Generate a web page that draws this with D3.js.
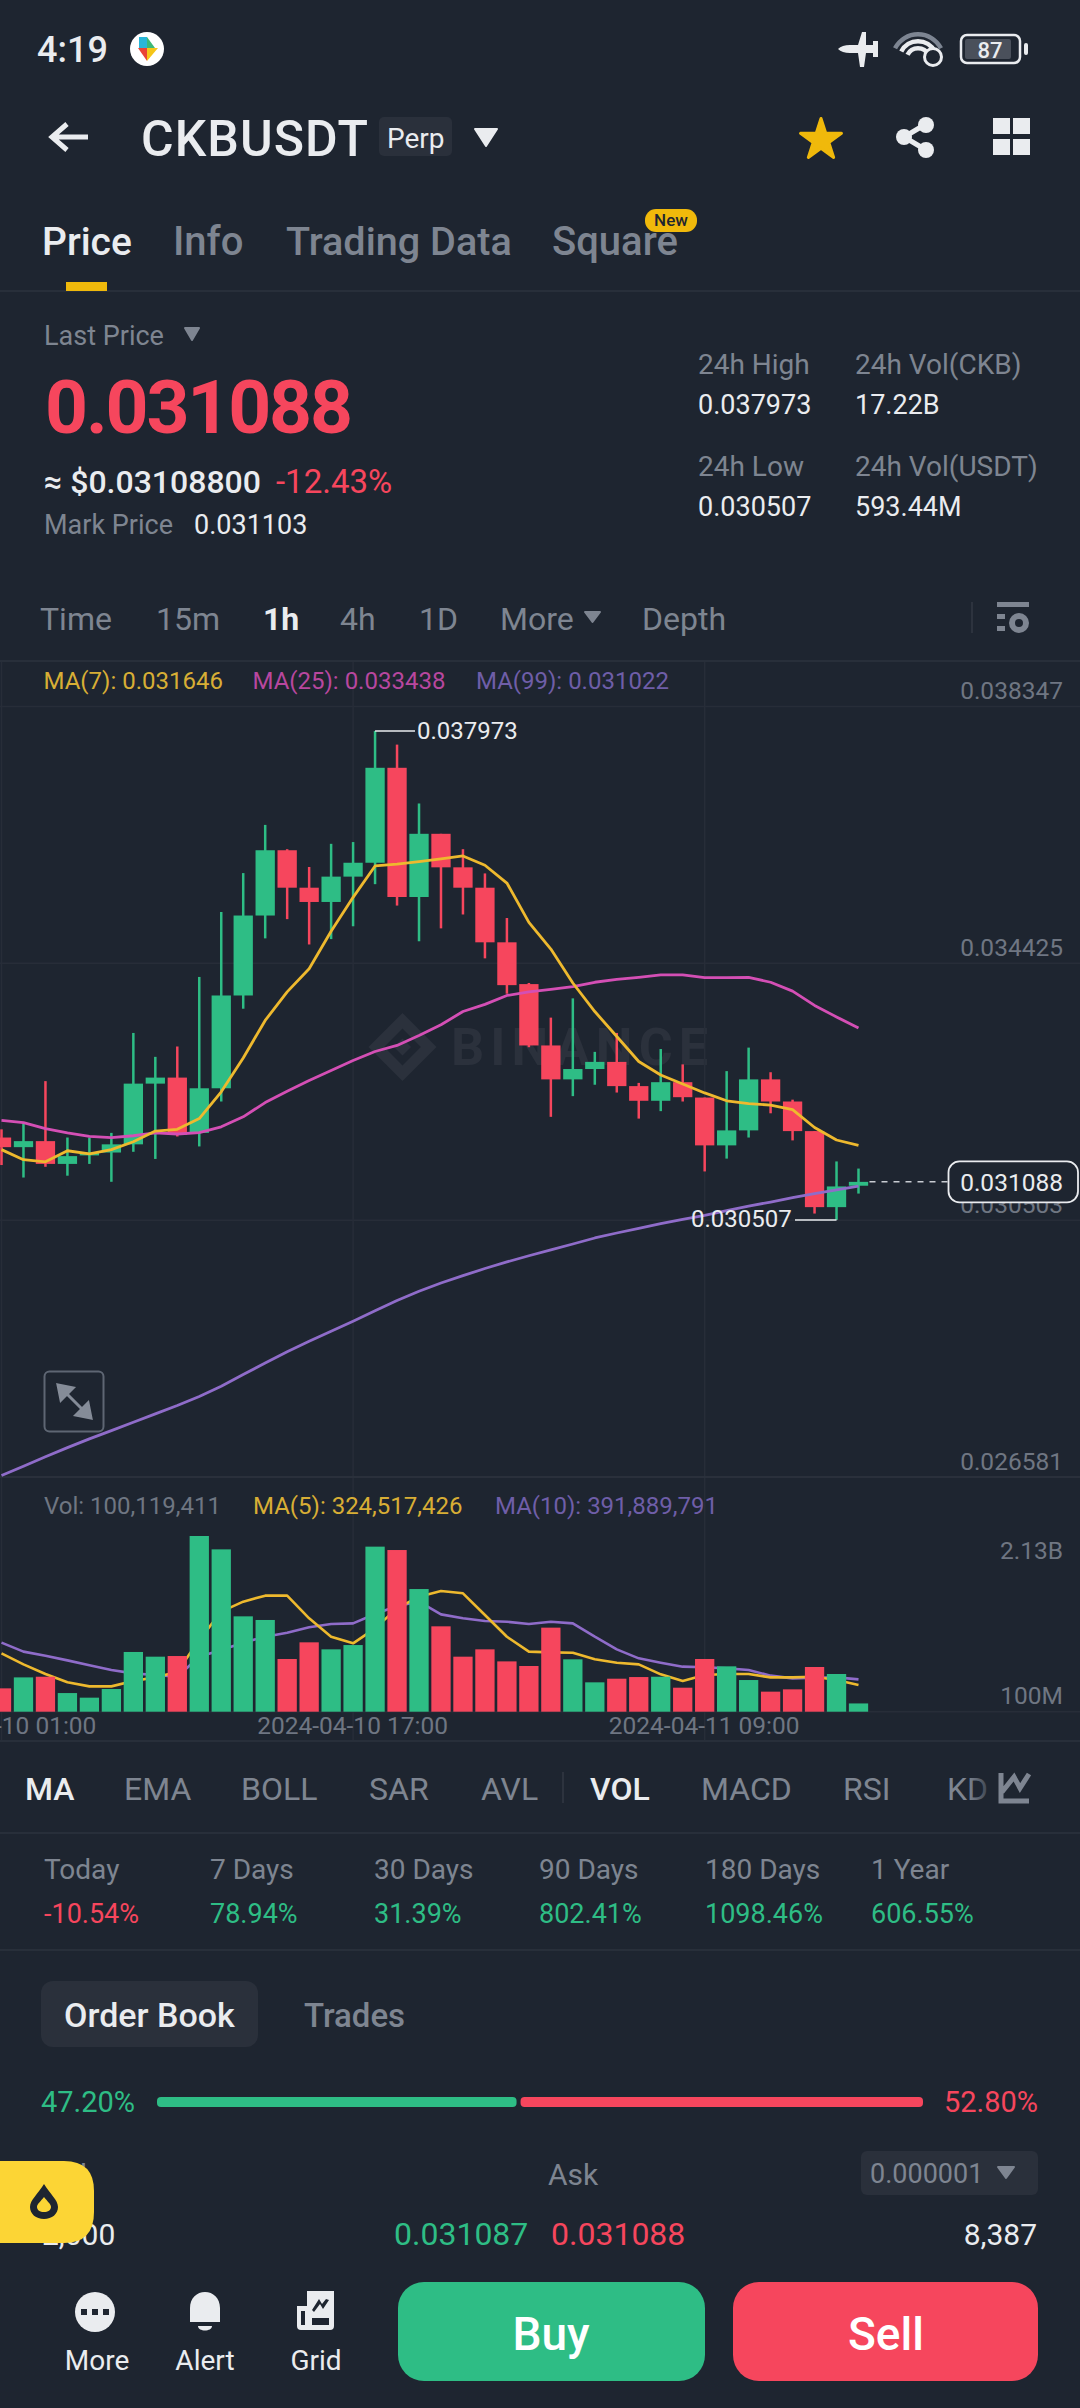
<!DOCTYPE html>
<html lang="en">
<head>
<meta charset="utf-8">
<title>CKBUSDT Perp</title>
<script src="https://cdn.jsdelivr.net/npm/d3@7/dist/d3.min.js"></script>
<style>
  html, body { margin: 0; padding: 0; background: #1e2530; overflow: hidden; }
  svg { display: block; }
  text { font-family: Roboto, "Noto Sans", sans-serif; }
</style>
</head>
<body>
<svg id="chart" width="1080" height="2408"></svg>
<script>
// candles, one per hour
const opens = [0.031765,0.031618,0.031710,0.031362,0.031492,0.031536,0.031661,0.032588,0.032680,0.031836,0.032517,0.033934,0.035155,0.036152,0.035580,0.035362,0.035749,0.035961,0.037411,0.035438,0.036403,0.035891,0.035580,0.034746,0.034108,0.033171,0.032653,0.032811,0.032920,0.032550,0.032326,0.032610,0.032375,0.031645,0.031874,0.032653,0.032315,0.031863,0.030702,0.031029];
const closes = [0.031618,0.031710,0.031362,0.031481,0.031536,0.031661,0.032588,0.032680,0.031808,0.032517,0.033934,0.035155,0.036152,0.035580,0.035362,0.035749,0.035961,0.037411,0.035438,0.036403,0.035891,0.035580,0.034746,0.034092,0.033171,0.032653,0.032811,0.032920,0.032550,0.032326,0.032610,0.032381,0.031645,0.031874,0.032653,0.032315,0.031863,0.030702,0.031018,0.031088];
const highs = [0.031890,0.031983,0.032626,0.031765,0.031765,0.031836,0.033362,0.032997,0.033155,0.034217,0.035209,0.035803,0.036539,0.036168,0.035896,0.036250,0.036277,0.037973,0.037765,0.036866,0.036403,0.036168,0.035798,0.035117,0.034125,0.033596,0.033890,0.033073,0.033362,0.032599,0.033116,0.032882,0.032375,0.032779,0.033138,0.032762,0.032343,0.031863,0.031400,0.031291];
const lows = [0.031345,0.031154,0.031318,0.031182,0.031362,0.031089,0.031547,0.031438,0.031781,0.031629,0.032315,0.033732,0.034806,0.035100,0.034713,0.034795,0.034991,0.035634,0.035307,0.034762,0.034959,0.035171,0.034501,0.033961,0.033144,0.032081,0.032397,0.032571,0.032452,0.032054,0.032168,0.032315,0.031247,0.031443,0.031765,0.032135,0.031721,0.030604,0.030507,0.030909];

const ma7 = [0.031580,0.031427,0.031394,0.031563,0.031514,0.031580,0.031700,0.031863,0.031890,0.032054,0.032463,0.032980,0.033553,0.033989,0.034343,0.034915,0.035433,0.035912,0.035940,0.035978,0.036021,0.036065,0.035923,0.035651,0.035051,0.034643,0.034125,0.033689,0.033307,0.032926,0.032719,0.032582,0.032446,0.032326,0.032283,0.032261,0.032190,0.031918,0.031727,0.031646];
const ma25 = [0.032027,0.031994,0.031901,0.031836,0.031781,0.031765,0.031792,0.031836,0.031819,0.031841,0.031928,0.032081,0.032299,0.032473,0.032637,0.032790,0.032942,0.033079,0.033171,0.033324,0.033487,0.033689,0.033798,0.033934,0.033989,0.034027,0.034070,0.034136,0.034179,0.034212,0.034250,0.034250,0.034207,0.034207,0.034212,0.034136,0.034000,0.033782,0.033607,0.033438];
const ma99 = [0.026604,0.026746,0.026889,0.027030,0.027163,0.027290,0.027418,0.027545,0.027672,0.027810,0.027967,0.028145,0.028323,0.028495,0.028654,0.028807,0.028959,0.029120,0.029275,0.029417,0.029544,0.029655,0.029765,0.029865,0.029960,0.030048,0.030139,0.030231,0.030307,0.030378,0.030450,0.030516,0.030577,0.030648,0.030719,0.030780,0.030846,0.030908,0.030965,0.031022];

const volumes = [283e6,416e6,424e6,226e6,170e6,275e6,724e6,667e6,675e6,2130e6,1968e6,1156e6,1112e6,639e6,841e6,756e6,808e6,2001e6,1960e6,1487e6,1035e6,667e6,756e6,610e6,554e6,1019e6,635e6,356e6,400e6,420e6,424e6,291e6,639e6,550e6,384e6,243e6,271e6,542e6,457e6,100119411];
const volMa5 = [707e6,574e6,457e6,356e6,307e6,307e6,372e6,416e6,485e6,869e6,1213e6,1334e6,1407e6,1407e6,1132e6,909e6,829e6,1011e6,1253e6,1394e6,1463e6,1435e6,1172e6,909e6,728e6,719e6,715e6,635e6,594e6,574e6,453e6,372e6,445e6,457e6,457e6,416e6,416e6,424e6,384e6,324517426];
const volMa10 = [837e6,728e6,679e6,622e6,562e6,505e6,465e6,445e6,424e6,667e6,748e6,837e6,909e6,958e6,1023e6,1063e6,1071e6,1184e6,1281e6,1334e6,1180e6,1132e6,1099e6,1091e6,1063e6,1091e6,1071e6,909e6,756e6,647e6,594e6,546e6,538e6,525e6,505e6,437e6,404e6,412e6,416e6,391889791];

const priceTicks = [0.038347, 0.034425, 0.030503, 0.026581];
const volTicks = [2130e6, 100e6];
const timeIdx = [0, 16, 32];
const timeLabels = ["2024-04-10 01:00", "2024-04-10 17:00", "2024-04-11 09:00"];
const lastPrice = 0.031088;
const bidShare = 47.20;

const timeframes = [["Time",41],["15m",157],["1h",264],["4h",341],["1D",420],["More",501],["Depth",643]];
const indicators = [["MA",26],["EMA",125],["BOLL",242],["SAR",370],["AVL",482],["VOL",591],["MACD",702],["RSI",844],["KD",948]];
const periods = [["Today",45,"-10.54%"],["7 Days",211,"78.94%"],["30 Days",375,"31.39%"],["90 Days",540,"802.41%"],["180 Days",706,"1098.46%"],["1 Year",872,"606.55%"]];

const BG = "#1e2530", GRID = "#272d38", BORDER = "#2d333e", GREY = "#7e8591", DIM = "#6f7682", WHITE = "#eaecef";
const UP = "#2ebd85", DOWN = "#f6465d", GOLD = "#f0b90b";
const C7 = "#eeb92e", C25 = "#d44fb5", C99 = "#8f6cc9";

const svg = d3.select("#chart");
svg.append("rect").attr("width", 1080).attr("height", 2408).attr("fill", BG);

function txt(str, x, y, size, fill, weight, anchor) {
  return svg.append("text").attr("x", anchor ? x : x - 1).attr("y", y).attr("font-size", size)
    .attr("fill", fill).attr("font-weight", weight || 400)
    .attr("text-anchor", anchor || "start").text(str);
}
function hline(y, color) {
  svg.append("line").attr("x1", 0).attr("x2", 1080).attr("y1", y).attr("y2", y)
    .attr("stroke", color).attr("stroke-width", 1.5);
}
function tri(x0, x1, y0, y1, color) {
  svg.append("path").attr("d", `M${x0},${y0}L${x1},${y0}L${(x0 + x1) / 2},${y1}Z`)
    .attr("fill", color).attr("stroke", color).attr("stroke-width", 2).attr("stroke-linejoin", "round");
}

// ---- scales
const x = d3.scaleLinear().domain([0, 39]).range([1.5, 858.5]);
const yPrice = d3.scaleLinear().domain([0.026581, 0.038347]).range([1477, 706.5]);
const yVol = d3.scaleLinear().domain([0, 2130e6]).range([1711.7, 1536]);
const barW = 19.3;
const idx = d3.range(opens.length);

// ---- status bar
txt("4:19", 38, 62, 36, WHITE, 500);
svg.append("circle").attr("cx", 147).attr("cy", 49).attr("r", 17).attr("fill", "#fff");
svg.append("path").attr("d", "M139,37L147,37L147,48L139,48Z").attr("fill", "#29b6d8");
svg.append("path").attr("d", "M147,37L155,48L147,48Z").attr("fill", "#3cb878");
svg.append("path").attr("d", "M147,48L158,48L147,61Z").attr("fill", "#f5c518");
svg.append("path").attr("d", "M138,48L147,48L147,61Z").attr("fill", "#ea4335");
svg.append("path").attr("d", "M838,49Q842,45 850,45L858,45L862,32L866,32L866,45L873,45L873,41L878,41L878,57L873,57L873,53L866,53L864,67L860,67L858,53L850,53Q842,53 838,49Z").attr("fill", WHITE);
[[28, "#7d8592"], [21, WHITE], [14, WHITE]].forEach(a => {
  svg.append("path").attr("d", d3.arc()({innerRadius: a[0] - 4.5, outerRadius: a[0], startAngle: -1.1, endAngle: 1.1}))
    .attr("transform", "translate(918,60)").attr("fill", a[1]);
});
svg.append("circle").attr("cx", 933).attr("cy", 57).attr("r", 8.5).attr("fill", BG).attr("stroke", WHITE).attr("stroke-width", 3);
svg.append("rect").attr("x", 961).attr("y", 35).attr("width", 59).attr("height", 28).attr("rx", 6)
  .attr("fill", "none").attr("stroke", WHITE).attr("stroke-width", 2.5);
svg.append("rect").attr("x", 965).attr("y", 39).attr("width", 46).attr("height", 20).attr("rx", 2).attr("fill", "#4a505b");
svg.append("rect").attr("x", 1024).attr("y", 43).attr("width", 4).attr("height", 12).attr("rx", 2).attr("fill", WHITE);
txt("87", 990, 58, 22, WHITE, 500, "middle");

// ---- header
svg.append("path").attr("d", "M88,137L54,137M67,124L52,137L67,150").attr("fill", "none")
  .attr("stroke", WHITE).attr("stroke-width", 5);
txt("CKBUSDT", 142, 156, 50, WHITE, 500).attr("textLength", 227);
svg.append("rect").attr("x", 379).attr("y", 117).attr("width", 73).attr("height", 39).attr("rx", 5).attr("fill", "#2a303b");
txt("Perp", 388, 148, 28, WHITE, 400);
tri(475, 497, 129, 146, WHITE);
svg.append("path").attr("d", d3.symbol(d3.symbolStar, 520)()).attr("transform", "translate(821,140)")
  .attr("fill", GOLD).attr("stroke", GOLD).attr("stroke-width", 3).attr("stroke-linejoin", "round");
svg.append("path").attr("d", "M926,124L904,137L926,150").attr("fill", "none").attr("stroke", WHITE).attr("stroke-width", 5);
[[926, 125], [904, 137], [926, 150]].forEach(p => {
  svg.append("circle").attr("cx", p[0]).attr("cy", p[1]).attr("r", 8).attr("fill", WHITE);
});
[[993, 118], [1013, 118], [993, 139], [1013, 139]].forEach(p => {
  svg.append("rect").attr("x", p[0]).attr("y", p[1]).attr("width", 17).attr("height", 16).attr("fill", WHITE);
});

// ---- tabs
txt("Price", 43, 255, 39, WHITE, 500);
txt("Info", 174, 255, 40, GREY, 500);
txt("Trading Data", 287, 255, 39.6, GREY, 500);
txt("Square", 553, 255, 40, GREY, 500);
svg.append("rect").attr("x", 645).attr("y", 209).attr("width", 52).attr("height", 23).attr("rx", 11).attr("fill", GOLD);
txt("New", 671, 226, 17, "#1e2530", 500, "middle");
hline(291, BORDER);
svg.append("rect").attr("x", 66).attr("y", 282).attr("width", 41).attr("height", 9).attr("fill", GOLD);

// ---- price block
txt("Last Price", 45, 345, 27, GREY);
tri(185, 199, 328, 340, GREY);
txt("0.031088", 46, 433, 75, DOWN, 700).attr("textLength", 308);
txt("≈ $0.03108800", 45, 493, 32, WHITE, 500);
txt("-12.43%", 277, 493, 33, DOWN, 400);
txt("Mark Price", 45, 534, 27, GREY);
txt("0.031103", 195, 534, 27, WHITE);
txt("24h High", 699, 374, 28, GREY);
txt("24h Vol(CKB)", 856, 374, 28, GREY);
txt("0.037973", 699, 414, 27, WHITE);
txt("17.22B", 856, 414, 27, WHITE);
txt("24h Low", 699, 476, 28, GREY);
txt("24h Vol(USDT)", 856, 476, 28, GREY);
txt("0.030507", 699, 516, 27, WHITE);
txt("593.44M", 856, 516, 27, WHITE);

// ---- timeframe row
timeframes.forEach(t => {
  const on = t[0] === "1h";
  txt(t[0], t[1], 630, 32, on ? WHITE : GREY, on ? 700 : 400);
});
tri(585, 600, 612, 622, GREY);
svg.append("line").attr("x1", 972).attr("x2", 972).attr("y1", 602).attr("y2", 633).attr("stroke", BORDER).attr("stroke-width", 2);
svg.append("rect").attr("x", 997).attr("y", 602).attr("width", 32).attr("height", 5).attr("fill", GREY);
svg.append("rect").attr("x", 997).attr("y", 614).attr("width", 8).attr("height", 5).attr("fill", GREY);
svg.append("rect").attr("x", 997).attr("y", 626).attr("width", 8).attr("height", 5).attr("fill", GREY);
svg.append("circle").attr("cx", 1019).attr("cy", 623).attr("r", 7).attr("fill", "none").attr("stroke", GREY).attr("stroke-width", 6);
hline(661, BORDER);

// ---- watermark and grid
const mark = svg.append("g").attr("fill", "#2b313c");
mark.append("path").attr("transform", "translate(402.5,1047) rotate(45)")
  .attr("fill-rule", "evenodd")
  .attr("d", "M-24,-24H24V24H-24ZM-13,-13V13H13V-13Z");
mark.append("rect").attr("x", -6).attr("y", -6).attr("width", 12).attr("height", 12)
  .attr("transform", "translate(402.5,1047) rotate(45)");
txt("BINANCE", 452, 1065, 52, "#2b313c", 700).attr("textLength", 257);

const gridG = svg.append("g").attr("stroke", GRID).attr("stroke-width", 1.5);
gridG.selectAll(".h").data(priceTicks).join("line")
  .attr("x1", 0).attr("x2", 1080).attr("y1", d => yPrice(d)).attr("y2", d => yPrice(d));
gridG.selectAll(".v").data(timeIdx).join("line")
  .attr("x1", d => x(d)).attr("x2", d => x(d)).attr("y1", 662).attr("y2", 1740);
hline(yPrice(priceTicks[3]), BORDER);
hline(yVol(0), GRID);

// ---- legends
txt("MA(7): 0.031646", 44.5, 689, 24, "#d8ae35");
txt("MA(25): 0.033438", 253.5, 689, 24, "#b8479f");
txt("MA(99): 0.031022", 477, 689, 24, "#6f5ea8");

// ---- price axis labels
const priceAxis = svg.append("g").attr("transform", "translate(1063,0)")
  .call(d3.axisLeft(yPrice).tickValues(priceTicks).tickSize(0).tickPadding(0).tickFormat(d3.format(".6f")));
priceAxis.select(".domain").remove();
priceAxis.selectAll("text").attr("dy", -8).attr("font-size", 24.5).attr("fill", DIM)
  .style("font-family", "Roboto, sans-serif");

// ---- candles
const candles = svg.append("g").selectAll("g").data(idx).join("g")
  .attr("fill", i => closes[i] >= opens[i] ? UP : DOWN);
candles.append("rect")
  .attr("x", i => x(i) - 1.25).attr("width", 2.5)
  .attr("y", i => yPrice(highs[i])).attr("height", i => yPrice(lows[i]) - yPrice(highs[i]));
candles.append("rect")
  .attr("x", i => x(i) - barW / 2).attr("width", barW)
  .attr("y", i => yPrice(Math.max(opens[i], closes[i])))
  .attr("height", i => Math.abs(yPrice(opens[i]) - yPrice(closes[i])));

// ---- moving averages
const maLine = d3.line().x((d, i) => x(i)).y(d => yPrice(d));
[[ma99, C99], [ma25, C25], [ma7, C7]].forEach(s => {
  svg.append("path").attr("d", maLine(s[0])).attr("fill", "none")
    .attr("stroke", s[1]).attr("stroke-width", 2.8).attr("stroke-linejoin", "round");
});

// ---- high / low callouts
svg.append("line").attr("x1", x(17)).attr("x2", 415).attr("y1", yPrice(highs[17])).attr("y2", yPrice(highs[17]))
  .attr("stroke", WHITE).attr("stroke-width", 1.5);
txt("0.037973", 418, 739, 24, WHITE);
svg.append("line").attr("x1", 795).attr("x2", x(38)).attr("y1", yPrice(lows[38])).attr("y2", yPrice(lows[38]))
  .attr("stroke", WHITE).attr("stroke-width", 1.5);
txt("0.030507", 692, 1227, 24, WHITE);

// ---- last price marker
svg.append("line").attr("x1", x(39) + 11).attr("x2", 948).attr("y1", yPrice(lastPrice)).attr("y2", yPrice(lastPrice))
  .attr("stroke", "#c8ccd2").attr("stroke-width", 1.5).attr("stroke-dasharray", "6 6");
svg.append("rect").attr("x", 948.5).attr("y", yPrice(lastPrice) - 20.5).attr("width", 129.5).attr("height", 41).attr("rx", 11)
  .attr("fill", BG).attr("stroke", WHITE).attr("stroke-width", 1.8);
txt("0.031088", 1063, 1191, 24.5, WHITE, 400, "end");

// ---- expand button
svg.append("rect").attr("x", 44.5).attr("y", 1371.5).attr("width", 59).attr("height", 60).attr("rx", 5)
  .attr("fill", "none").attr("stroke", "#5e6673").attr("stroke-width", 2);
svg.append("path").attr("d", "M58,1385L73,1388L61,1400ZM91,1418L76,1415L88,1403ZM64,1391L85,1412")
  .attr("fill", "#858c98").attr("stroke", "#858c98").attr("stroke-width", 3);

// ---- volume pane
txt("Vol: 100,119,411", 45, 1514, 24, DIM);
txt("MA(5): 324,517,426", 254, 1514, 24, "#d8ae35");
txt("MA(10): 391,889,791", 496, 1514, 24, "#6f5ea8");

const volLine = d3.line().x((d, i) => x(i)).y(d => yVol(d));
[[volMa10, C99], [volMa5, C7]].forEach(s => {
  svg.append("path").attr("d", volLine(s[0])).attr("fill", "none")
    .attr("stroke", s[1]).attr("stroke-width", 2.6).attr("stroke-linejoin", "round");
});
svg.append("g").selectAll("rect").data(idx).join("rect")
  .attr("x", i => x(i) - barW / 2).attr("width", barW)
  .attr("y", i => yVol(volumes[i])).attr("height", i => yVol(0) - yVol(volumes[i]))
  .attr("fill", i => closes[i] >= opens[i] ? UP : DOWN);

const volAxis = svg.append("g").attr("transform", "translate(1063,0)")
  .call(d3.axisLeft(yVol).tickValues(volTicks).tickSize(0).tickPadding(0)
    .tickFormat(d => d === volTicks[0] ? "2.13B" : "100M"));
volAxis.select(".domain").remove();
volAxis.selectAll("text").attr("dy", d => d === volTicks[0] ? 22 : 0).attr("font-size", 24.5).attr("fill", DIM)
  .style("font-family", "Roboto, sans-serif");

const timeAxis = svg.append("g").attr("transform", "translate(-1,1734)")
  .call(d3.axisBottom(x).tickValues(timeIdx).tickSize(0).tickFormat(i => timeLabels[timeIdx.indexOf(i)]));
timeAxis.select(".domain").remove();
timeAxis.selectAll("text").attr("y", 0).attr("dy", 0).attr("font-size", 24.5).attr("fill", DIM)
  .style("font-family", "Roboto, sans-serif");
hline(1741, BORDER);

// ---- indicator tabs
indicators.forEach(t => {
  const on = t[0] === "MA" || t[0] === "VOL";
  txt(t[0], t[1], 1800, 32, on ? WHITE : GREY, on ? 500 : 400);
});
svg.append("line").attr("x1", 563).attr("x2", 563).attr("y1", 1772).attr("y2", 1803).attr("stroke", BORDER).attr("stroke-width", 2);
const fade = svg.append("defs").append("linearGradient").attr("id", "fade");
fade.append("stop").attr("offset", 0).attr("stop-color", BG).attr("stop-opacity", 0);
fade.append("stop").attr("offset", 1).attr("stop-color", BG).attr("stop-opacity", 1);
svg.append("rect").attr("x", 968).attr("y", 1765).attr("width", 30).attr("height", 44).attr("fill", "url(#fade)");
svg.append("path").attr("d", "M1001,1773V1801H1029M1002,1792L1014,1777L1020,1788L1029,1774")
  .attr("fill", "none").attr("stroke", GREY).attr("stroke-width", 5);
hline(1833, BORDER);

// ---- period returns
periods.forEach(p => {
  txt(p[0], p[1], 1879, 28, GREY);
  txt(p[2], p[1], 1923, 27, p[2][0] === "-" ? DOWN : UP);
});
hline(1950, BORDER);

// ---- order book
svg.append("rect").attr("x", 41).attr("y", 1981).attr("width", 217).attr("height", 66).attr("rx", 12).attr("fill", "#2a303b");
txt("Order Book", 65, 2027, 34, WHITE, 500);
txt("Trades", 305, 2027, 33, GREY, 500);

const bookX = d3.scaleLinear().domain([0, 100]).range([157, 923]);
txt("47.20%", 42, 2112, 29, UP);
txt("52.80%", 1038, 2112, 29, DOWN, 400, "end");
svg.append("rect").attr("x", bookX(0)).attr("y", 2097).attr("width", bookX(bidShare) - bookX(0) - 2).attr("height", 10).attr("rx", 4).attr("fill", UP);
svg.append("rect").attr("x", bookX(bidShare) + 2).attr("y", 2097).attr("width", bookX(100) - bookX(bidShare) - 2).attr("height", 10).attr("rx", 4).attr("fill", DOWN);

txt("Bid", 45, 2185, 30, GREY);
txt("Ask", 549, 2185, 30, GREY);
svg.append("rect").attr("x", 861).attr("y", 2151).attr("width", 177).attr("height", 44).attr("rx", 6).attr("fill", "#2a303b");
txt("0.000001", 871, 2183, 27, GREY);
tri(998, 1014, 2167, 2178, GREY);
txt("2,000", 43, 2245, 30, WHITE);
txt("0.031087", 395, 2245, 32, UP);
txt("0.031088", 552, 2245, 32, DOWN);
txt("8,387", 1037, 2245, 30, WHITE, 400, "end");

// ---- floating tab
svg.append("path").attr("d", "M0,2161H64Q94,2161 94,2191V2212Q94,2243 64,2243H0Z").attr("fill", "#fcd535");
svg.append("path").attr("fill-rule", "evenodd")
  .attr("d", "M44,2184C50,2194 58,2200 58,2207C58,2214 52,2219 44,2219C36,2219 30,2214 30,2207C30,2200 38,2194 44,2184ZM44,2197C41,2201 37,2204 37,2207C37,2210 40,2212 44,2212C48,2212 51,2210 51,2207C51,2204 47,2201 44,2197Z")
  .attr("fill", "#1e2530");

// ---- bottom bar
svg.append("circle").attr("cx", 95).attr("cy", 2312).attr("r", 20).attr("fill", WHITE);
[84, 95, 106].forEach(cx => {
  svg.append("rect").attr("x", cx - 3).attr("y", 2309).attr("width", 6).attr("height", 6).attr("fill", "#1e2530");
});
svg.append("path").attr("d", "M190,2322V2308C190,2298 197,2292 205,2292C213,2292 220,2298 220,2308V2322ZM198,2326H212C212,2332 198,2332 198,2326Z").attr("fill", WHITE);
svg.append("path").attr("fill-rule", "evenodd")
  .attr("d", "M307,2291H334V2326Q334,2330 330,2330H301Q297,2330 297,2326V2306H307ZM301,2311V2325H305V2311ZM312,2318V2325H329V2318ZM314,2312L320,2304L323,2309L329,2300L326,2299L322,2304L319,2299L312,2310Z").attr("fill", WHITE);
txt("More", 97, 2370, 28, WHITE, 400, "middle");
txt("Alert", 205, 2370, 28, WHITE, 400, "middle");
txt("Grid", 316, 2370, 28, WHITE, 400, "middle");

svg.append("rect").attr("x", 398).attr("y", 2282).attr("width", 307).attr("height", 99).attr("rx", 26).attr("fill", UP);
svg.append("rect").attr("x", 733).attr("y", 2282).attr("width", 305).attr("height", 99).attr("rx", 26).attr("fill", DOWN);
txt("Buy", 551, 2350, 46, "#fff", 500, "middle");
txt("Sell", 886, 2350, 46, "#fff", 500, "middle");
</script>
</body>
</html>
